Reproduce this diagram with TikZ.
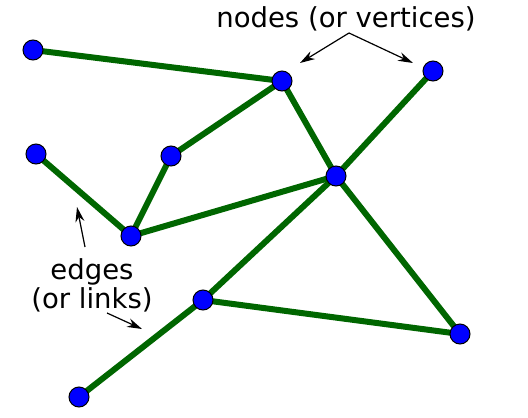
\documentclass[tikz,border=0pt]{standalone}
\usepackage{fontspec}
\setmainfont{DejaVu Sans}
\usepackage{xcolor}
\usepackage{tikz}
\usetikzlibrary{arrows.meta,backgrounds}

\definecolor{edgegreen}{RGB}{0,102,0}
\tikzset{
	vertex/.style={circle,fill=blue,draw=black,line width=1pt,minimum size=20pt,inner sep=0pt},
	link/.style={edgegreen,line width=6pt},
	pointer/.style={-{Stealth[length=15pt,width=9pt]},line width=1.2pt,black},
	caption/.style={inner sep=0pt,font=\fontsize{27.5}{29}\selectfont,align=center}
}

\begin{document}
\begin{tikzpicture}[x=1pt,y=-1pt]
		\useasboundingbox (0,0) rectangle (528,418);
		% nodes
		\node[vertex] (a) at (33,50) {};
		\node[vertex] (b) at (282,81) {};
		\node[vertex] (c) at (433,71) {};
		\node[vertex] (d) at (36,154) {};
		\node[vertex] (e) at (171,156) {};
		\node[vertex] (f) at (336,176) {};
		\node[vertex] (g) at (131,236) {};
		\node[vertex] (h) at (203,300) {};
		\node[vertex] (i) at (460,334) {};
		\node[vertex] (j) at (79,397) {};
		% edges
		\begin{scope}[on background layer]
			\draw[link] (a.center)--(b.center);
			\draw[link] (b.center)--(e.center);
			\draw[link] (b.center)--(f.center);
			\draw[link] (c.center)--(f.center);
			\draw[link] (d.center)--(g.center);
			\draw[link] (e.center)--(g.center);
			\draw[link] (g.center)--(f.center);
			\draw[link] (f.center)--(h.center);
			\draw[link] (f.center)--(i.center);
			\draw[link] (h.center)--(i.center);
			\draw[link] (h.center)--(j.center);
		\end{scope}
		% labels
		\node[caption] (vtxlabel) at (346,19) {nodes (or vertices)};
		\node[caption] (edglabel) at (92,285) {edges\\(or links)};
		\coordinate (vtxroot) at (349,33);
		\coordinate (vtxleft) at (300,63);
		\coordinate (vtxright) at (413,63);
		\coordinate (edgup) at (77,207);
		\coordinate (edgupfoot) at (85,247);
		\coordinate (edgdown) at (142,329);
		\coordinate (edgdownfoot) at (107,313);
		\draw[pointer] (vtxroot)--(vtxleft);
		\draw[pointer] (vtxroot)--(vtxright);
		\draw[pointer] (edgupfoot)--(edgup);
		\draw[pointer] (edgdownfoot)--(edgdown);
	\end{tikzpicture}
\end{document}
